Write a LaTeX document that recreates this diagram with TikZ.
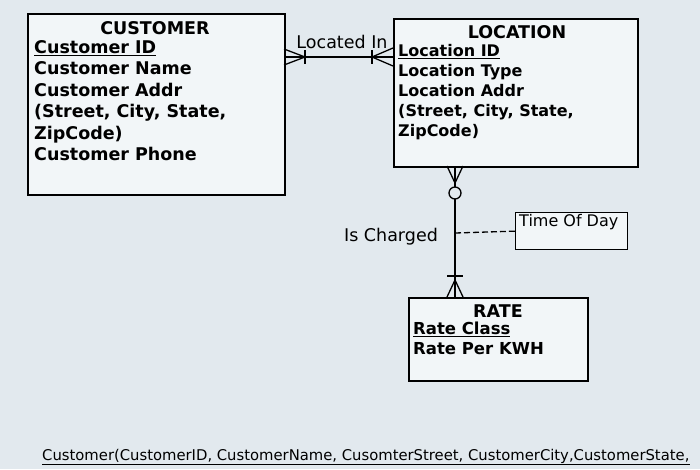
\documentclass[tikz,border=0pt]{standalone}
\usepackage{fontspec}
\setmainfont{DejaVu Sans}
\definecolor{bg}{HTML}{E2E9EE}
\definecolor{bx}{HTML}{F2F6F8}
\begin{document}
\begin{tikzpicture}[x=1pt,y=-1pt,
  ent/.style={draw=black,line width=1.5pt,fill=bx},
  attr/.style={font=\bfseries\fontsize{17.5}{21.5}\selectfont,align=left,anchor=north west,inner sep=0pt},
  ttl/.style={font=\bfseries\fontsize{17.5}{18}\selectfont,inner sep=0pt},
  rel/.style={line width=1.3pt}]
\fill[bg] (0,0) rectangle (700,469);
\useasboundingbox (0,0) rectangle (700,469);
% entities
\node[ent,minimum width=257,minimum height=181,anchor=north west] (cust) at (27,13) {};
\node[ent,minimum width=244,minimum height=148,anchor=north west] (loc) at (393,18) {};
\node[ent,minimum width=179,minimum height=83,anchor=north west] (rate) at (408,297) {};
\node[draw=black,line width=1.3pt,fill=bx,minimum width=112,minimum height=37,anchor=north west] (tod) at (515,212) {};
\node[font=\fontsize{16}{17}\selectfont,anchor=north west,inner sep=0pt] at (519,214) {Time Of Day};
% texts
\node[ttl] (ct) at (155,28) {CUSTOMER};
\node[attr] (ca) at (34,40) {\underline{Customer ID}\\Customer Name\\Customer Addr\\(Street, City, State,\\ZipCode)\\Customer Phone};
\node[ttl] (lt) at (517,32) {LOCATION};
\node[attr,font=\bfseries\fontsize{16}{20}\selectfont] (la) at (398,44) {\underline{Location ID}\\Location Type\\Location Addr\\(Street, City, State,\\ZipCode)};
\node[ttl] (rt) at (498,311) {RATE};
\node[attr,font=\bfseries\fontsize{16.5}{20}\selectfont] (ra) at (413,322) {\underline{Rate Class}\\Rate Per KWH};
\node[font=\fontsize{17.5}{18}\selectfont] (li) at (342,42) {Located In};
\node[font=\fontsize{17.5}{18}\selectfont] (ic) at (391,237) {Is Charged};
% customer-location
\coordinate (p1) at (284,57); \coordinate (p2) at (393,57);
\draw[rel] (p1) -- (p2);
\draw[rel] (284,49) -- (305,57) -- (284,65);
\draw[rel] (305,50) -- (305,64);
\draw[rel] (393,48) -- (372,57) -- (393,66);
\draw[rel] (372,50) -- (372,64);
% location-rate
\coordinate (q1) at (455,166); \coordinate (q2) at (455,297);
\draw[rel] (q1) -- (455,187); \draw[rel] (455,199) -- (q2);
\draw[rel] (447,166) -- (455,183) -- (463,166);
\draw[rel] (455,193) circle (6);
\draw[rel] (447,276) -- (463,276);
\draw[rel] (447,297) -- (455,280) -- (463,297);
\draw[rel,dash pattern=on 6pt off 3pt] (455,233) -- (tod.west);
% bottom text
\node[font=\fontsize{14.8}{16}\selectfont,anchor=west,inner sep=0pt] (bt) at (42,457) {\underline{Customer(CustomerID, CustomerName, CusomterStreet, CustomerCity,CustomerState,}};
\end{tikzpicture}
\end{document}
